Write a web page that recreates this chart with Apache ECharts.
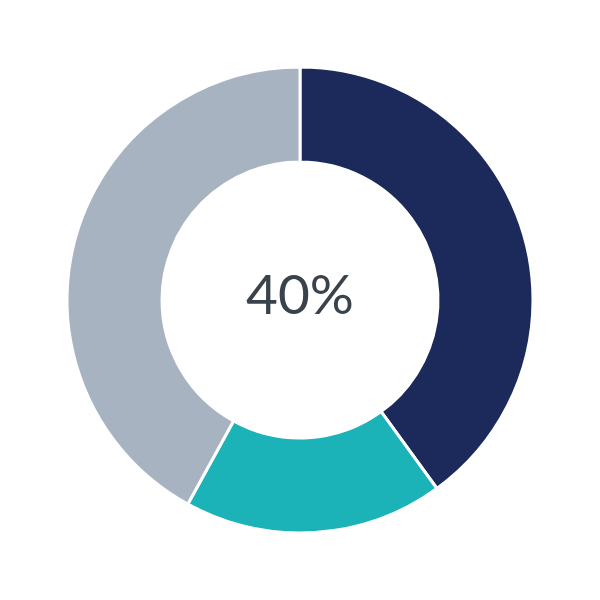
<!DOCTYPE html>
<html><head><meta charset="utf-8">
<script src="https://cdn.jsdelivr.net/npm/echarts@6/dist/echarts.min.js"></script>
<style>html,body{margin:0;padding:0;background:#fff;}#c{width:600px;height:600px;}</style>
</head><body><div id="c"></div>
<script>
const categories = ['A', 'B', 'C'];
const values = [40, 18, 42];
const colors = ['#1b2a5a', '#1bb3b7', '#a8b3c2'];
const centerLabel = '40%';

const chart = echarts.init(document.getElementById('c'));
chart.setOption({
  animation: false,
  graphic: [{
    type: 'text', left: 'center', top: 269,
    style: { text: centerLabel, fontSize: 55, fontFamily: 'Lato', fontWeight: 400, fill: '#3a434c' }
  }],
  series: [{
    type: 'pie',
    center: [300, 300],
    radius: [138, 233],
    startAngle: 90,
    clockwise: true,
    label: { show: false },
    labelLine: { show: false },
    itemStyle: { borderColor: '#fff', borderWidth: 3 },
    emphasis: { disabled: true },
    data: categories.map((c, i) => ({ name: c, value: values[i], itemStyle: { color: colors[i] } }))
  }]
});
</script></body></html>
